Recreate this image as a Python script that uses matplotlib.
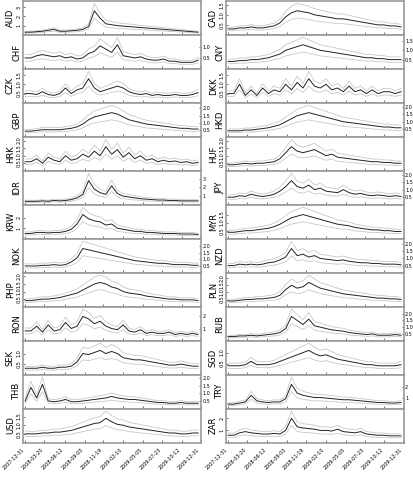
import numpy as np
import matplotlib
matplotlib.use("Agg")
import matplotlib.pyplot as plt

dates = np.arange(np.datetime64("2007-12-31"), np.datetime64("2010-01-01"), np.timedelta64(24, "D"))
tick_dates = ["2007-12-31", "2008-03-20", "2008-06-12", "2008-09-03", "2008-11-19",
              "2009-02-10", "2009-05-05", "2009-07-23", "2009-10-12", "2009-12-31"]

left_names = ["AUD", "CHF", "CZK", "GBP", "HRK", "IDR", "KRW", "NOK", "PHP", "RON", "SEK", "THB", "USD"]
right_names = ["CAD", "CNY", "DKK", "HKD", "HUF", "JPY", "MYR", "NZD", "PLN", "RUB", "SGD", "TRY", "ZAR"]

AUD = [0.3,0.3,0.35,0.4,0.5,0.6,0.4,0.4,0.45,0.5,0.6,0.9,2.6,1.8,1.2,1.1,1.0,0.95,0.9,0.85,0.8,0.75,0.7,0.65,0.6,0.55,0.5,0.45,0.4,0.35,0.3]
CHF = [0.5,0.5,0.6,0.65,0.6,0.55,0.6,0.5,0.55,0.45,0.5,0.7,0.8,1.05,0.9,0.75,1.1,0.6,0.55,0.5,0.55,0.45,0.4,0.4,0.45,0.35,0.35,0.3,0.3,0.3,0.4]
CZK = [0.5,0.5,0.45,0.6,0.45,0.4,0.5,0.8,0.5,0.7,0.8,1.3,0.8,0.6,0.7,0.8,0.9,0.8,0.6,0.5,0.45,0.5,0.4,0.45,0.4,0.4,0.45,0.4,0.4,0.45,0.55]
GBP = [0.4,0.4,0.45,0.5,0.5,0.5,0.5,0.55,0.6,0.7,0.9,1.2,1.4,1.5,1.6,1.7,1.6,1.4,1.2,1.1,1.0,0.9,0.85,0.8,0.75,0.7,0.65,0.6,0.6,0.55,0.55]
HRK = [0.6,0.6,0.8,0.5,0.9,0.7,0.6,1.0,0.7,0.8,1.1,0.9,1.3,1.0,1.6,1.1,1.4,0.9,1.2,0.8,1.0,0.7,0.8,0.6,0.7,0.6,0.65,0.55,0.6,0.5,0.55]
IDR = [0.4,0.4,0.4,0.45,0.4,0.5,0.45,0.5,0.6,0.8,1.2,2.8,1.8,1.4,1.2,2.2,1.3,1.0,0.9,0.8,0.7,0.65,0.6,0.55,0.55,0.5,0.5,0.45,0.45,0.45,0.45]
KRW = [0.5,0.5,0.6,0.6,0.55,0.6,0.6,0.7,0.9,1.4,2.3,1.9,1.7,1.6,1.3,1.4,1.0,0.9,0.8,0.7,0.7,0.6,0.6,0.55,0.5,0.5,0.5,0.45,0.45,0.45,0.4]
NOK = [0.5,0.5,0.5,0.55,0.55,0.6,0.55,0.6,0.8,1.1,1.8,1.7,1.6,1.5,1.4,1.3,1.2,1.1,1.0,0.9,0.85,0.8,0.75,0.7,0.7,0.65,0.6,0.6,0.6,0.55,0.55]
PHP = [0.4,0.4,0.45,0.5,0.5,0.55,0.6,0.7,0.8,0.9,1.1,1.3,1.5,1.6,1.5,1.3,1.2,1.0,0.9,0.85,0.8,0.7,0.65,0.6,0.55,0.5,0.5,0.45,0.45,0.45,0.4]
RON = [0.8,0.8,1.2,0.7,1.3,0.8,0.9,1.5,1.0,1.2,2.0,1.8,1.4,1.6,1.2,1.0,0.9,1.3,0.8,0.7,0.9,0.6,0.7,0.6,0.6,0.7,0.5,0.6,0.5,0.6,0.5]
SEK = [0.3,0.3,0.3,0.35,0.3,0.3,0.35,0.35,0.4,0.6,1.0,0.95,1.05,1.15,1.0,1.1,1.0,0.8,0.75,0.7,0.7,0.65,0.6,0.55,0.5,0.45,0.45,0.5,0.45,0.4,0.4]
THB = [0.5,1.4,0.7,1.6,0.5,0.45,0.5,0.6,0.45,0.45,0.5,0.55,0.6,0.65,0.7,0.8,0.7,0.65,0.6,0.6,0.55,0.5,0.45,0.4,0.4,0.35,0.35,0.4,0.35,0.35,0.35]
USD = [0.5,0.5,0.5,0.55,0.55,0.6,0.6,0.65,0.7,0.8,0.9,1.0,1.1,1.15,1.4,1.2,1.05,1.0,0.9,0.85,0.8,0.75,0.7,0.65,0.6,0.55,0.55,0.5,0.5,0.55,0.55]
CAD = [0.3,0.3,0.35,0.35,0.4,0.35,0.35,0.4,0.45,0.6,0.9,1.1,1.2,1.15,1.1,1.0,0.95,0.9,0.85,0.8,0.8,0.75,0.7,0.65,0.6,0.55,0.5,0.5,0.45,0.45,0.4]
CNY = [0.4,0.4,0.45,0.45,0.5,0.5,0.55,0.6,0.7,0.8,1.0,1.1,1.2,1.3,1.2,1.1,1.0,0.95,0.9,0.85,0.8,0.75,0.7,0.65,0.6,0.6,0.55,0.55,0.5,0.5,0.5]
DKK = [0.5,0.5,1.0,0.4,0.7,0.4,0.8,0.5,0.7,0.6,1.0,0.7,1.1,0.8,1.3,0.9,0.8,1.0,0.7,0.8,0.6,0.9,0.6,0.7,0.5,0.7,0.5,0.6,0.6,0.5,0.6]
HKD = [0.4,0.4,0.4,0.45,0.45,0.5,0.55,0.6,0.7,0.8,1.0,1.2,1.4,1.5,1.6,1.5,1.4,1.3,1.2,1.1,1.0,0.95,0.9,0.85,0.8,0.75,0.7,0.65,0.65,0.6,0.6]
HUF = [0.4,0.4,0.45,0.5,0.45,0.5,0.5,0.55,0.6,0.8,1.2,1.6,1.3,1.2,1.3,1.4,1.2,1.0,1.1,0.9,0.85,0.8,0.75,0.7,0.65,0.6,0.6,0.55,0.55,0.5,0.5]
JPY = [0.5,0.5,0.6,0.55,0.7,0.6,0.55,0.6,0.7,0.9,1.2,1.6,1.2,1.1,1.3,1.0,1.1,0.9,0.85,0.8,1.0,0.8,0.7,0.75,0.65,0.6,0.65,0.6,0.55,0.6,0.55]
MYR = [0.4,0.4,0.45,0.5,0.5,0.55,0.6,0.65,0.75,0.9,1.1,1.3,1.4,1.5,1.4,1.3,1.2,1.1,1.0,0.9,0.85,0.8,0.7,0.65,0.6,0.55,0.55,0.5,0.5,0.45,0.45]
NZD = [0.5,0.5,0.6,0.55,0.6,0.55,0.6,0.7,0.75,0.9,1.1,1.7,1.2,1.3,1.1,1.2,1.0,0.95,0.9,0.85,0.9,0.8,0.75,0.7,0.7,0.65,0.65,0.6,0.6,0.6,0.55]
PLN = [0.4,0.4,0.45,0.5,0.5,0.55,0.55,0.6,0.65,0.8,1.2,1.5,1.3,1.4,1.7,1.5,1.3,1.2,1.1,1.0,0.9,0.85,0.8,0.75,0.7,0.65,0.6,0.6,0.55,0.55,0.5]
RUB = [0.3,0.3,0.35,0.35,0.4,0.35,0.4,0.45,0.5,0.6,0.9,1.8,1.5,1.2,1.6,1.1,1.0,0.9,0.8,0.75,0.7,0.6,0.55,0.5,0.45,0.5,0.4,0.4,0.4,0.45,0.4]
SGD = [0.4,0.4,0.4,0.45,0.6,0.45,0.45,0.45,0.5,0.6,0.7,0.8,0.9,1.0,1.1,0.95,0.85,0.9,0.8,0.7,0.65,0.6,0.55,0.5,0.45,0.45,0.4,0.4,0.4,0.4,0.45]
TRY = [0.4,0.4,0.5,0.6,1.2,0.7,0.6,0.55,0.6,0.6,0.9,2.2,1.4,1.2,1.1,1.0,1.0,0.95,0.9,0.85,0.8,0.8,0.75,0.7,0.65,0.6,0.55,0.55,0.5,0.5,0.55]
ZAR = [0.6,0.6,0.8,0.9,0.8,0.75,0.7,0.7,0.75,0.7,1.0,2.0,1.3,1.2,1.15,1.1,1.0,1.0,0.95,1.1,0.9,0.85,0.8,0.9,0.7,0.65,0.6,0.6,0.55,0.55,0.55]

# relative half-width of the grey interval band
band_width = 0.3

series = dict(AUD=AUD, CHF=CHF, CZK=CZK, GBP=GBP, HRK=HRK, IDR=IDR, KRW=KRW, NOK=NOK,
              PHP=PHP, RON=RON, SEK=SEK, THB=THB, USD=USD, CAD=CAD, CNY=CNY, DKK=DKK,
              HKD=HKD, HUF=HUF, JPY=JPY, MYR=MYR, NZD=NZD, PLN=PLN, RUB=RUB, SGD=SGD,
              TRY=TRY, ZAR=ZAR)

fig = plt.figure(figsize=(4.14, 5.0), dpi=100)
nrow = 13
top, bottom = 0.998, 0.115
h = (top - bottom) / nrow
xt = np.array(tick_dates, dtype="datetime64[D]")

for col, names in enumerate([left_names, right_names]):
    x0 = 0.055 if col == 0 else 0.545
    for r, name in enumerate(names):
        ax = fig.add_axes([x0, top - (r + 1) * h, 0.43, h])
        y = np.array(series[name])
        ax.plot(dates, y * (1 + band_width), color="#c8c8c8", lw=0.6)
        ax.plot(dates, y * (1 - band_width), color="#c8c8c8", lw=0.6)
        ax.plot(dates, y, color="#222222", lw=0.7)
        ax.set_xlim(dates[0] - np.timedelta64(10, "D"), dates[-1] + np.timedelta64(10, "D"))
        ymax = y.max() * (1 + band_width)
        ax.set_ylim(0, ymax * 1.08)
        for s in ax.spines.values():
            s.set_color("#999999")
            s.set_linewidth(1.2)
        ax.set_xticks(xt)
        ax.tick_params(axis="x", direction="in", length=2, width=0.4)
        if r == len(names) - 1:
            ax.set_xticklabels(tick_dates, rotation=45, ha="right", fontsize=3.5)
        else:
            ax.set_xticklabels([])
        step = 0.5 if ymax < 2.5 else 1
        ax.set_yticks(np.arange(step, ymax, step))
        ax.tick_params(axis="y", direction="in", length=1.5, width=0.4, labelsize=3.5, pad=1)
        for lab in ax.get_yticklabels():
            lab.set_rotation(90)
            lab.set_va("center")
        if r % 2 == 1:
            ax.yaxis.tick_right()
        ax.set_ylabel(name, fontsize=6, labelpad=1)
        ax.yaxis.set_label_position("left")

fig.savefig("out.png", dpi=100)
